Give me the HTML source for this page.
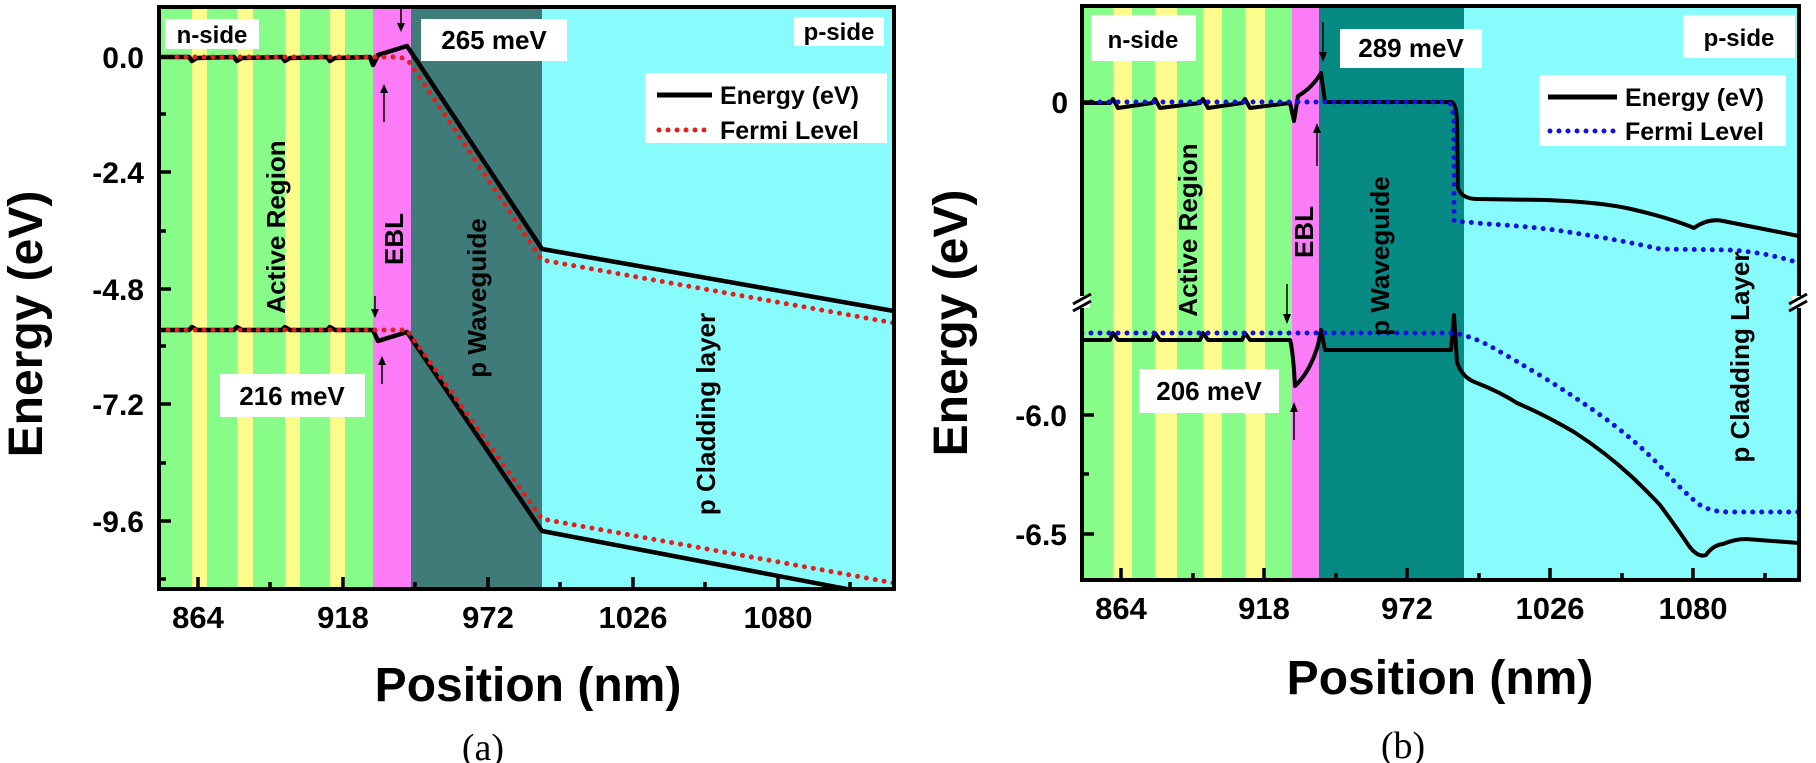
<!DOCTYPE html>
<html><head><meta charset="utf-8"><style>
html,body{margin:0;padding:0;background:#fff;}
svg{display:block;}
text{font-family:"Liberation Sans",Arial,sans-serif;font-weight:bold;fill:#000;}
</style></head><body>
<svg width="1816" height="763" viewBox="0 0 1816 763" xmlns="http://www.w3.org/2000/svg">
<defs>
<clipPath id="ca"><rect x="159" y="7" width="735" height="582"/></clipPath>
<clipPath id="cb"><rect x="1082" y="6" width="717" height="574"/></clipPath>
</defs>
<rect width="1816" height="763" fill="#fff"/>

<!-- ===== Panel (a) ===== -->
<g clip-path="url(#ca)">
<rect x="159" y="7" width="214" height="582" fill="#88fc88"/>
<rect x="192" y="7" width="15" height="582" fill="#fcfc8c"/>
<rect x="237" y="7" width="16" height="582" fill="#fcfc8c"/>
<rect x="285" y="7" width="15" height="582" fill="#fcfc8c"/>
<rect x="330" y="7" width="15" height="582" fill="#fcfc8c"/>
<rect x="373" y="7" width="38" height="582" fill="#fb7cf6"/>
<rect x="411" y="7" width="131" height="582" fill="#3e7b79"/>
<rect x="542" y="7" width="352" height="582" fill="#88fcfc"/>

<path d="M159,57 L189,57 L192,61 L197,58 L234,57 L237,61 L242,58 L282,57 L285,61 L290,58 L327,57 L330,61 L335,58 L370,57 L373,65 L378,55 L407,46 L542,249 L894,311" fill="none" stroke="#000" stroke-width="4.5" stroke-linejoin="round"/>
<path d="M159,57 L395,57 Q405,57 410,63 L542,260 L894,323" fill="none" stroke="#e0201c" stroke-width="5" stroke-dasharray="0 9" stroke-linecap="round"/>
<path d="M159,330 L189,330 L192,327 L197,330 L234,330 L237,327 L242,330 L282,330 L285,327 L290,330 L327,330 L330,327 L335,330 L373,330 L378,341 L407,332 L542,531 L894,598" fill="none" stroke="#000" stroke-width="4.5" stroke-linejoin="round"/>
<path d="M159,330 L407,330 L542,519 L894,583" fill="none" stroke="#e0201c" stroke-width="5" stroke-dasharray="0 9" stroke-linecap="round"/>

<rect x="165" y="19" width="94" height="30" fill="#fff"/>
<text x="212" y="43" font-size="24" text-anchor="middle">n-side</text>
<rect x="421" y="19" width="146" height="42" fill="#fff"/>
<text x="494" y="49" font-size="26" text-anchor="middle">265 meV</text>
<rect x="794" y="17" width="90" height="29" fill="#fff"/>
<text x="839" y="40" font-size="24" text-anchor="middle">p-side</text>
<rect x="645" y="73" width="242" height="70" fill="#fff"/>
<line x1="657" y1="95" x2="712" y2="95" stroke="#000" stroke-width="5"/>
<text x="720" y="104" font-size="25">Energy (eV)</text>
<line x1="659" y1="130" x2="712" y2="130" stroke="#e0201c" stroke-width="5" stroke-dasharray="0 9" stroke-linecap="round"/>
<text x="720" y="139" font-size="25">Fermi Level</text>
<rect x="220" y="374" width="145" height="43" fill="#fff"/>
<text x="292" y="405" font-size="26" text-anchor="middle">216 meV</text>

<text transform="translate(285,227) rotate(-90)" font-size="26" text-anchor="middle">Active Region</text>
<text transform="translate(403,239) rotate(-90)" font-size="26" text-anchor="middle">EBL</text>
<text transform="translate(486,298) rotate(-90)" font-size="26" text-anchor="middle">p Waveguide</text>
<text transform="translate(715,414) rotate(-90)" font-size="26" text-anchor="middle">p Cladding layer</text>

<g stroke="#000" stroke-width="1.5">
<line x1="401" y1="8" x2="401" y2="24"/><line x1="384" y1="122" x2="384" y2="92"/>
<line x1="375" y1="296" x2="375" y2="310"/><line x1="382" y1="384" x2="382" y2="364"/>
</g>
<g fill="#000">
<polygon points="397,23 405,23 401,32"/><polygon points="380,93 388,93 384,84"/>
<polygon points="371,309 379,309 375,318"/><polygon points="378,365 386,365 382,356"/>
</g>
</g>
<rect x="159" y="7" width="735" height="582" fill="none" stroke="#000" stroke-width="4"/>
<g stroke="#000" stroke-width="3.5">
<line x1="159" y1="57" x2="171" y2="57"/><line x1="159" y1="172" x2="171" y2="172"/><line x1="159" y1="289" x2="171" y2="289"/><line x1="159" y1="404" x2="171" y2="404"/><line x1="159" y1="521" x2="171" y2="521"/>
<line x1="159" y1="114" x2="166" y2="114"/><line x1="159" y1="231" x2="166" y2="231"/><line x1="159" y1="346" x2="166" y2="346"/><line x1="159" y1="463" x2="166" y2="463"/><line x1="159" y1="579" x2="166" y2="579"/>
<line x1="198" y1="589" x2="198" y2="577"/><line x1="343" y1="589" x2="343" y2="577"/><line x1="488" y1="589" x2="488" y2="577"/><line x1="633" y1="589" x2="633" y2="577"/><line x1="778" y1="589" x2="778" y2="577"/>
<line x1="270" y1="589" x2="270" y2="582"/><line x1="415" y1="589" x2="415" y2="582"/><line x1="560" y1="589" x2="560" y2="582"/><line x1="705" y1="589" x2="705" y2="582"/><line x1="850" y1="589" x2="850" y2="582"/>
</g>
<g font-size="30" text-anchor="end">
<text x="144" y="68">0.0</text><text x="144" y="183">-2.4</text><text x="144" y="300">-4.8</text><text x="144" y="415">-7.2</text><text x="144" y="532">-9.6</text>
</g>
<g font-size="31" text-anchor="middle">
<text x="198" y="628">864</text><text x="343" y="628">918</text><text x="488" y="628">972</text><text x="633" y="628">1026</text><text x="778" y="628">1080</text>
</g>
<text x="528" y="701" font-size="48" text-anchor="middle">Position (nm)</text>
<text transform="translate(42,324) rotate(-90)" font-size="48" text-anchor="middle">Energy (eV)</text>
<text x="483" y="760" font-size="38" text-anchor="middle" style="font-family:'Liberation Serif',serif;font-weight:normal">(a)</text>

<!-- ===== Panel (b) ===== -->
<g clip-path="url(#cb)">
<rect x="1082" y="6" width="210" height="574" fill="#88fc88"/>
<rect x="1113" y="6" width="19" height="574" fill="#fcfc8c"/>
<rect x="1155" y="6" width="22" height="574" fill="#fcfc8c"/>
<rect x="1203" y="6" width="19" height="574" fill="#fcfc8c"/>
<rect x="1245" y="6" width="20" height="574" fill="#fcfc8c"/>
<rect x="1292" y="6" width="27" height="574" fill="#fb7cf6"/>
<rect x="1319" y="6" width="145" height="574" fill="#078a84"/>
<rect x="1464" y="6" width="335" height="574" fill="#88fcfc"/>

<path d="M1082,103 L1110,103 L1113,99 L1118,108 L1152,103 L1155,99 L1160,108 L1200,103 L1203,99 L1208,108 L1242,103 L1245,99 L1250,108 L1290,103 L1294,121 L1298,96 Q1312,88 1321,73 L1325,102 L1451,102 Q1456,102 1457,120 L1458,188 Q1462,199 1477,199 L1546,200 Q1600,202 1631,209 Q1670,218 1694,228 Q1708,218 1723,221 L1799,236" fill="none" stroke="#000" stroke-width="4" stroke-linejoin="round"/>
<path d="M1082,102 L1448,102 Q1454,104 1454,130 L1454,221 L1488,224 Q1540,227 1574,233 Q1620,240 1660,249 L1729,250 Q1765,252 1799,263" fill="none" stroke="#1010e0" stroke-width="5" stroke-dasharray="0 9" stroke-linecap="round"/>
<path d="M1082,340 L1110,340 L1113,333 L1118,340 L1152,340 L1155,333 L1160,340 L1200,340 L1203,333 L1208,340 L1242,340 L1245,333 L1250,340 L1290,340 Q1293,350 1295,386 Q1310,372 1318,345 L1321,330 L1325,350 L1451,350 L1454,315 L1457,362 Q1462,378 1477,383 Q1500,392 1517,403 Q1545,415 1574,432 Q1605,452 1631,476 Q1648,492 1660,505 Q1677,528 1689,546 Q1698,558 1706,555 Q1713,545 1723,544 Q1735,539 1746,539 L1799,543" fill="none" stroke="#000" stroke-width="4" stroke-linejoin="round"/>
<path d="M1082,333 L1454,333 Q1470,336 1488,345 Q1515,360 1546,379 Q1575,397 1603,417 Q1635,440 1660,466 Q1684,493 1700,505 Q1712,512 1729,512 L1799,512" fill="none" stroke="#1010e0" stroke-width="5" stroke-dasharray="0 9" stroke-linecap="round"/>

<rect x="1091" y="15" width="105" height="46" fill="#fff"/>
<text x="1143" y="48" font-size="24" text-anchor="middle">n-side</text>
<rect x="1340" y="29" width="142" height="39" fill="#fff"/>
<text x="1411" y="57" font-size="26" text-anchor="middle">289 meV</text>
<rect x="1683" y="15" width="112" height="43" fill="#fff"/>
<text x="1739" y="46" font-size="24" text-anchor="middle">p-side</text>
<rect x="1539" y="75" width="247" height="71" fill="#fff"/>
<line x1="1548" y1="97" x2="1617" y2="97" stroke="#000" stroke-width="5"/>
<text x="1625" y="106" font-size="25">Energy (eV)</text>
<line x1="1550" y1="131" x2="1617" y2="131" stroke="#1010e0" stroke-width="5" stroke-dasharray="0 9" stroke-linecap="round"/>
<text x="1625" y="140" font-size="25">Fermi Level</text>
<rect x="1139" y="369" width="140" height="44" fill="#fff"/>
<text x="1209" y="400" font-size="26" text-anchor="middle">206 meV</text>

<text transform="translate(1197,230) rotate(-90)" font-size="26" text-anchor="middle">Active Region</text>
<text transform="translate(1313,232) rotate(-90)" font-size="26" text-anchor="middle">EBL</text>
<text transform="translate(1389,256) rotate(-90)" font-size="26" text-anchor="middle">p Waveguide</text>
<text transform="translate(1749,357) rotate(-90)" font-size="26" text-anchor="middle">p Cladding Layer</text>

<g stroke="#000" stroke-width="1.5">
<line x1="1323" y1="22" x2="1323" y2="53"/><line x1="1317" y1="166" x2="1317" y2="132"/>
<line x1="1287" y1="284" x2="1287" y2="315"/><line x1="1294" y1="440" x2="1294" y2="411"/>
</g>
<g fill="#000">
<polygon points="1319,52 1327,52 1323,62"/><polygon points="1313,133 1321,133 1317,123"/>
<polygon points="1283,314 1291,314 1287,324"/><polygon points="1290,412 1298,412 1294,402"/>
</g>
</g>
<rect x="1082" y="6" width="717" height="574" fill="none" stroke="#000" stroke-width="4"/>
<g stroke="#000" stroke-width="3.5">
<line x1="1082" y1="102" x2="1094" y2="102"/><line x1="1082" y1="415" x2="1094" y2="415"/><line x1="1082" y1="534" x2="1094" y2="534"/>
<line x1="1082" y1="474" x2="1089" y2="474"/>
<line x1="1121" y1="580" x2="1121" y2="568"/><line x1="1264" y1="580" x2="1264" y2="568"/><line x1="1407" y1="580" x2="1407" y2="568"/><line x1="1550" y1="580" x2="1550" y2="568"/><line x1="1693" y1="580" x2="1693" y2="568"/>
<line x1="1193" y1="580" x2="1193" y2="573"/><line x1="1336" y1="580" x2="1336" y2="573"/><line x1="1479" y1="580" x2="1479" y2="573"/><line x1="1622" y1="580" x2="1622" y2="573"/><line x1="1765" y1="580" x2="1765" y2="573"/>
</g>
<rect x="1076" y="296" width="14" height="12" fill="#fff"/>
<rect x="1792" y="296" width="14" height="12" fill="#fff"/>
<g stroke="#000" stroke-width="3">
<line x1="1073" y1="304" x2="1091" y2="294"/><line x1="1073" y1="311" x2="1091" y2="301"/>
<line x1="1789" y1="304" x2="1807" y2="294"/><line x1="1789" y1="311" x2="1807" y2="301"/>
</g>
<g font-size="30" text-anchor="end">
<text x="1068" y="113">0</text><text x="1067" y="426">-6.0</text><text x="1067" y="545">-6.5</text>
</g>
<g font-size="31" text-anchor="middle">
<text x="1121" y="619">864</text><text x="1264" y="619">918</text><text x="1407" y="619">972</text><text x="1550" y="619">1026</text><text x="1693" y="619">1080</text>
</g>
<text x="1440" y="694" font-size="48" text-anchor="middle">Position (nm)</text>
<text transform="translate(967,323) rotate(-90)" font-size="48" text-anchor="middle">Energy (eV)</text>
<text x="1403" y="758" font-size="38" text-anchor="middle" style="font-family:'Liberation Serif',serif;font-weight:normal">(b)</text>
</svg>
</body></html>
